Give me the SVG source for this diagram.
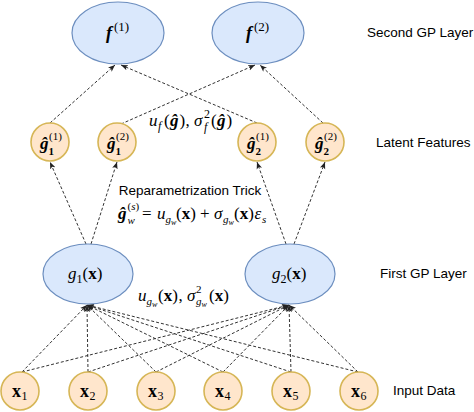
<svg xmlns="http://www.w3.org/2000/svg" width="474" height="412" viewBox="0 0 474 412">
<style>
.gp{fill:#dae8fc;stroke:#6c8ebf;stroke-width:1.2}
.nd{fill:#ffe6cc;stroke:#d6b656;stroke-width:1.6}
.e{fill:none;stroke:#333;stroke-width:1;stroke-dasharray:3 2;marker-end:url(#arr)}
.lbl{font-family:"Liberation Sans",Arial,sans-serif;font-size:13.5px;fill:#000}
.m{font-family:"Liberation Serif","DejaVu Serif",serif;font-size:17px;fill:#000}
.i{font-style:italic}
.b{font-weight:bold}
.bi{font-style:italic;font-weight:bold}
.s{font-size:11px}
.ss{font-size:8px}
</style>
<defs>
<marker id="arr" viewBox="0 0 10 10" refX="10" refY="5" markerWidth="7" markerHeight="7" orient="auto" markerUnits="userSpaceOnUse">
<path d="M0,1 L10,5 L0,9 L2.5,5 z" fill="#222"/>
</marker>
</defs>

<g id="connectors">
<line class="e" x1="50" y1="123" x2="115" y2="65"/>
<line class="e" x1="257" y1="123" x2="121" y2="65"/>
<line class="e" x1="121" y1="124" x2="255" y2="65"/>
<line class="e" x1="323" y1="123" x2="260" y2="65"/>
<line class="e" x1="86" y1="244" x2="50" y2="162"/>
<line class="e" x1="91" y1="244" x2="117" y2="162"/>
<line class="e" x1="286" y1="244" x2="257" y2="162"/>
<line class="e" x1="294" y1="244" x2="325" y2="162"/>
<line class="e" x1="22" y1="372" x2="87" y2="305"/>
<line class="e" x1="22" y1="372" x2="289" y2="305"/>
<line class="e" x1="88" y1="372" x2="87" y2="305"/>
<line class="e" x1="88" y1="372" x2="289" y2="305"/>
<line class="e" x1="156" y1="372" x2="87" y2="305"/>
<line class="e" x1="156" y1="372" x2="289" y2="305"/>
<line class="e" x1="223" y1="372" x2="87" y2="305"/>
<line class="e" x1="223" y1="372" x2="289" y2="305"/>
<line class="e" x1="291" y1="372" x2="87" y2="305"/>
<line class="e" x1="291" y1="372" x2="289" y2="305"/>
<line class="e" x1="358" y1="372" x2="87" y2="305"/>
<line class="e" x1="358" y1="372" x2="289" y2="305"/>
</g>

<g id="f1">
<ellipse class="gp" cx="118" cy="33" rx="46" ry="31"/>
<text class="m"><tspan class="bi" x="106" y="39" font-size="18">f</tspan><tspan x="114" y="31" font-size="13">(1)</tspan></text>
</g>
<g id="f2">
<ellipse class="gp" cx="258" cy="33" rx="46" ry="31"/>
<text class="m"><tspan class="bi" x="246" y="39" font-size="18">f</tspan><tspan x="254" y="31" font-size="13">(2)</tspan></text>
</g>

<g id="g1hat1">
<circle class="nd" cx="50" cy="142" r="19"/>
<text class="m"><tspan class="bi" x="40" y="149">ĝ</tspan><tspan class="s b" x="48.5" y="155">1</tspan><tspan class="s" x="49" y="140">(1)</tspan></text>
</g>
<g id="g1hat2">
<circle class="nd" cx="117" cy="142" r="19"/>
<text class="m"><tspan class="bi" x="107" y="149">ĝ</tspan><tspan class="s b" x="115.5" y="155">1</tspan><tspan class="s" x="116" y="140">(2)</tspan></text>
</g>
<g id="g2hat1">
<circle class="nd" cx="257" cy="142" r="19"/>
<text class="m"><tspan class="bi" x="247" y="149">ĝ</tspan><tspan class="s b" x="255.5" y="155">2</tspan><tspan class="s" x="256" y="140">(1)</tspan></text>
</g>
<g id="g2hat2">
<circle class="nd" cx="325" cy="142" r="19"/>
<text class="m"><tspan class="bi" x="315" y="149">ĝ</tspan><tspan class="s b" x="323.5" y="155">2</tspan><tspan class="s" x="324" y="140">(2)</tspan></text>
</g>

<g id="g1">
<ellipse class="gp" cx="88" cy="274" rx="45" ry="30"/>
<text class="m" x="68" y="279"><tspan class="i">g</tspan><tspan font-size="12" dy="4">1</tspan><tspan dy="-4">(</tspan><tspan class="b">x</tspan>)</text>
</g>
<g id="g2">
<ellipse class="gp" cx="290" cy="274" rx="45" ry="30"/>
<text class="m" x="272" y="279"><tspan class="i">g</tspan><tspan font-size="12" dy="4">2</tspan><tspan dy="-4">(</tspan><tspan class="b">x</tspan>)</text>
</g>

<g id="x1"><circle class="nd" cx="20" cy="391" r="19"/><text class="m"><tspan class="b" x="12" y="397" font-size="18">x</tspan><tspan x="21.5" y="400" font-size="12">1</tspan></text></g>
<g id="x2"><circle class="nd" cx="88" cy="391" r="19"/><text class="m"><tspan class="b" x="80" y="397" font-size="18">x</tspan><tspan x="89.5" y="400" font-size="12">2</tspan></text></g>
<g id="x3"><circle class="nd" cx="156" cy="391" r="19"/><text class="m"><tspan class="b" x="148" y="397" font-size="18">x</tspan><tspan x="157.5" y="400" font-size="12">3</tspan></text></g>
<g id="x4"><circle class="nd" cx="223" cy="391" r="19"/><text class="m"><tspan class="b" x="215" y="397" font-size="18">x</tspan><tspan x="224.5" y="400" font-size="12">4</tspan></text></g>
<g id="x5"><circle class="nd" cx="291" cy="391" r="19"/><text class="m"><tspan class="b" x="283" y="397" font-size="18">x</tspan><tspan x="292.5" y="400" font-size="12">5</tspan></text></g>
<g id="x6"><circle class="nd" cx="359" cy="391" r="19"/><text class="m"><tspan class="b" x="351" y="397" font-size="18">x</tspan><tspan x="360.5" y="400" font-size="12">6</tspan></text></g>

<g id="labels">
<text class="lbl" x="367" y="37">Second GP Layer</text>
<text class="lbl" x="376" y="147">Latent Features</text>
<text class="lbl" x="380" y="278">First GP Layer</text>
<text class="lbl" x="393" y="395">Input Data</text>
<text class="lbl" x="190" y="195" text-anchor="middle">Reparametrization Trick</text>

<text class="m" font-size="18"><tspan class="i" x="149" y="126">u</tspan><tspan class="i" x="158" y="130" font-size="12">f</tspan><tspan x="164" y="126">(</tspan><tspan class="bi" x="170" y="126">ĝ</tspan><tspan x="179.5" y="126">)</tspan><tspan x="185.5" y="126">,</tspan><tspan class="i" x="194" y="126">σ</tspan><tspan x="204" y="118" font-size="12">2</tspan><tspan class="i" x="204" y="131" font-size="12">f</tspan><tspan x="211" y="126">(</tspan><tspan class="bi" x="217" y="126">ĝ</tspan><tspan x="226.5" y="126">)</tspan></text>

<text class="m"><tspan class="bi" x="118" y="219">ĝ</tspan><tspan class="s" x="127.5" y="210">(<tspan class="i">s</tspan>)</tspan><tspan class="s i" x="127.5" y="224">w</tspan><tspan x="142" y="219">=</tspan><tspan class="i" x="157" y="219">u</tspan><tspan class="s i" x="165.5" y="223">g</tspan><tspan class="ss i" x="171" y="225">w</tspan><tspan x="176" y="219">(</tspan><tspan class="b" x="181.7" y="219">x</tspan><tspan x="190.2" y="219">)</tspan><tspan x="200" y="219">+</tspan><tspan class="i" x="214" y="219">σ</tspan><tspan class="s i" x="223" y="223">g</tspan><tspan class="ss i" x="228.5" y="225">w</tspan><tspan x="234" y="219">(</tspan><tspan class="b" x="239.7" y="219">x</tspan><tspan x="248.2" y="219">)</tspan><tspan class="i" x="254.5" y="219">ε</tspan><tspan class="s i" x="262" y="223">s</tspan></text>

<text class="m"><tspan class="i" x="138" y="301">u</tspan><tspan class="s i" x="146.5" y="305">g</tspan><tspan class="ss i" x="152" y="307">w</tspan><tspan x="158" y="301">(</tspan><tspan class="b" x="163.7" y="301">x</tspan><tspan x="172.2" y="301">)</tspan><tspan x="178.5" y="301">,</tspan><tspan class="i" x="187" y="301">σ</tspan><tspan class="s" x="196" y="293">2</tspan><tspan class="s i" x="196" y="305">g</tspan><tspan class="ss i" x="201.5" y="307">w</tspan><tspan x="209" y="301">(</tspan><tspan class="b" x="214.7" y="301">x</tspan><tspan x="223.2" y="301">)</tspan></text>
</g>
</svg>
